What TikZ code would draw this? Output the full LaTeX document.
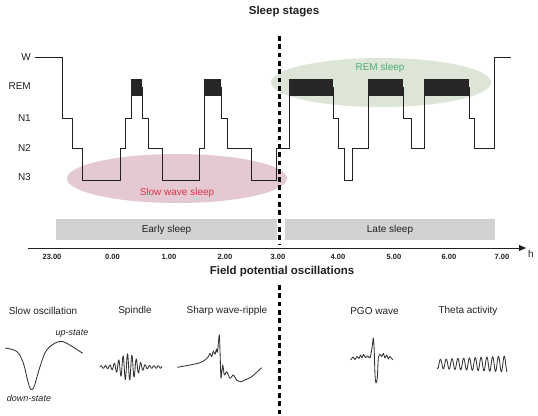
\documentclass[tikz,border=0pt]{standalone}
\usepackage{fontspec}
\setmainfont{Liberation Sans}
\usetikzlibrary{arrows.meta}
\definecolor{pinkfill}{HTML}{E4C9D2}
\definecolor{greenfill}{HTML}{DDE5D7}
\definecolor{redtext}{HTML}{D8344A}
\definecolor{greentext}{HTML}{4DAF72}
\definecolor{barfill}{HTML}{D1D2D4}
\definecolor{remfill}{HTML}{262626}
\definecolor{ink}{HTML}{231F20}
\tikzset{
  stagelabel/.style={anchor=east, font=\fontsize{10}{12}\selectfont, text=ink, inner sep=0pt},
  hyplabel/.style={font=\fontsize{10}{12}\selectfont, inner sep=0pt},
  title/.style={font=\fontsize{11.5}{13}\selectfont\bfseries, text=ink, inner sep=0pt},
  ticklabel/.style={font=\fontsize{7.5}{9}\selectfont\bfseries, text=ink, inner sep=0pt},
  wavelabel/.style={font=\fontsize{10}{12}\selectfont, text=ink, inner sep=0pt},
  statelabel/.style={font=\fontsize{9}{11}\selectfont\itshape, text=ink, inner sep=0pt},
  hypno/.style={line width=0.9pt, draw=ink},
  rembox/.style={fill=remfill, draw=none},
  wave/.style={line width=0.85pt, draw=black!80, line join=round},
  periodbar/.style={fill=barfill, draw=none},
  divider/.style={line width=3.2pt, black, dash pattern=on 4.7pt off 3.6pt},
}
\begin{document}
\begin{tikzpicture}[x=1pt,y=-1pt]
\useasboundingbox (0,0) rectangle (538,415);
% ellipses
\fill[pinkfill] (177,178.5) ellipse [x radius=110, y radius=24.5];
\fill[greenfill] (381,82.5) ellipse [x radius=110, y radius=24.5];
\node[hyplabel, text=redtext] (sws) at (177,193) {Slow wave sleep};
\node[hyplabel, text=greentext] (rems) at (380,68) {REM sleep};
% titles
\node[title] (t1) at (284,12) {Sleep stages};
\node[title] (t2) at (282,272) {Field potential oscillations};
% stage labels
\node[stagelabel] (lW) at (31,57) {W};
\node[stagelabel] (lR) at (31,86) {REM};
\node[stagelabel] (l1) at (31,118) {N1};
\node[stagelabel] (l2) at (31,148) {N2};
\node[stagelabel] (l3) at (31,177) {N3};
% hypnogram
\draw[hypno] (35,57)--(62,57)--(62,118)--(72,118)--(72,148)--(82,148)--(82,180)--(120,180)--(120,148)--(125,148)--(125,118)--(131,118)--(131,87)--(142,87)--(142,118)--(148,118)--(148,148)--(162,148)--(162,180)--(199,180)--(199,148)--(204,148)--(204,87)--(221,87)--(221,118)--(227,118)--(227,148)--(251,148)--(251,180)--(276,180)--(276,148)--(289,148)--(289,87)--(333,87)--(333,118)--(338,118)--(338,148)--(344,148)--(344,180)--(352,180)--(352,148)--(368,148)--(368,87)--(403,87)--(403,118)--(411,118)--(411,148)--(424,148)--(424,87)--(469,87)--(469,118)--(474,118)--(474,148)--(494,148)--(494,57)--(511,57);
\fill[rembox] (131,79) rectangle (142,96);
\fill[rembox] (204,79) rectangle (221,96);
\fill[rembox] (289,79) rectangle (333,96);
\fill[rembox] (368,79) rectangle (403,96);
\fill[rembox] (424,79) rectangle (469,96);
% period bars
\fill[periodbar] (56,219) rectangle (277,240);
\fill[periodbar] (285,219) rectangle (495,240);
\node[hyplabel, text=ink] (early) at (166.5,230) {Early sleep};
\node[hyplabel, text=ink] (late) at (390,230) {Late sleep};
% time axis
\coordinate (ax0) at (28,248);
\coordinate (ax1) at (526,248);
\draw[line width=1pt, ink, -{Triangle[length=7pt,width=6pt]}] (ax0) -- (ax1);
\node[hyplabel, text=ink, anchor=west] (hlab) at (528,254) {h};
\node[ticklabel] (h23) at (52,256.5) {23.00};
\node[ticklabel] (h0) at (112.5,256.5) {0.00};
\node[ticklabel] (h1) at (169,256.5) {1.00};
\node[ticklabel] (h2) at (225,256.5) {2.00};
\node[ticklabel] (h3) at (278,256.5) {3.00};
\node[ticklabel] (h4) at (338,256.5) {4.00};
\node[ticklabel] (h5) at (394,256.5) {5.00};
\node[ticklabel] (h6) at (449,256.5) {6.00};
\node[ticklabel] (h7) at (502,256.5) {7.00};
% dashed divider (interrupted by axis labels and title)
\coordinate (d0) at (279.5,36);
\coordinate (d1) at (279.5,244);
\coordinate (d2) at (279.5,285);
\coordinate (d3) at (279.5,415);
\draw[divider] (d0) -- (d1);
\draw[divider] (d2) -- (d3);
% oscillation labels
\node[wavelabel] (wso) at (43,311) {Slow oscillation};
\node[wavelabel] (wsp) at (135,311) {Spindle};
\node[wavelabel] (wsw) at (227,311) {Sharp wave-ripple};
\node[wavelabel] (wpgo) at (374.5,311) {PGO wave};
\node[wavelabel] (wth) at (468,311) {Theta activity};
\node[statelabel] (up) at (72,334) {up-state};
\node[statelabel] (down) at (29,398) {down-state};
% slow oscillation
\draw[wave] plot[smooth, tension=0.6] coordinates {(5,348) (16.7,351.5) (23.3,363) (28,382) (31,389.5) (34.3,386) (40,366.7) (46.7,350) (58.3,341.7) (66.7,343.3) (82.7,353.3)};
% spindle
\draw[wave] plot[domain=100:162, samples=500, smooth] (\x, {367 - (1.2 + 12*exp(-((\x-128)/11)^2))*sin(((\x-100)/4.4)*360)});
% sharp wave-ripple
\draw[wave] plot[smooth, tension=0.4] coordinates {(177.3,367.3) (190,365) (200,362.7) (205,360) (208.3,356.7) (210,353.3) (211.7,356.7) (213.3,351) (215,354.3) (216.5,349) (217.5,352) (219.3,335) (220.3,360) (221,378.3) (222.7,365) (224.3,375) (226.7,371.7) (230,378.3) (233.3,375) (236.7,380) (240.7,381.7) (245,380) (251.7,376.7) (261.7,367.7)};
% PGO wave
\draw[wave] plot[smooth, tension=0.4] coordinates {(350.7,360) (353,357) (355,359.5) (357,356.5) (359,358.5) (360.5,355) (362,358) (363.5,354.5) (365.5,357.5) (368,356) (370,358) (372,348) (373.3,338) (374.2,350) (375,375) (376,383) (377.3,378) (378.3,358) (380,354.3) (381.7,356.5) (383.3,353.5) (385,358) (386.7,355) (388.3,359) (390,356.5) (392.7,360)};
% theta activity
\draw[wave] plot[domain=437:507, samples=500, smooth] (\x, {364 - (4.5+3.5*(\x-437)/70)*sin(((\x-439)/5.8)*360)});
\end{tikzpicture}
\end{document}
